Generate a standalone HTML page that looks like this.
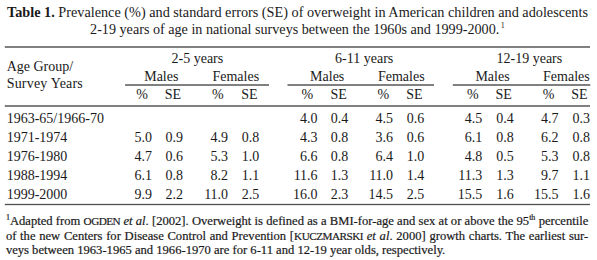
<!DOCTYPE html>
<html><head><meta charset="utf-8">
<style>
html,body{margin:0;padding:0;background:#fff;}
body{width:597px;height:260px;position:relative;overflow:hidden;font-family:"Liberation Serif",serif;color:#1a1a1a;}
.t{position:absolute;white-space:nowrap;line-height:1;}
.fn{-webkit-text-stroke:0.2px #1a1a1a;}
.j{text-align:justify;text-align-last:justify;white-space:normal;}
svg{position:absolute;left:0;top:0;}
.sc{font-size:11.2px;letter-spacing:-0.5px;}
.sup{font-size:0.64em;vertical-align:0.62em;line-height:0;}
.sup1{font-size:0.56em;vertical-align:0.72em;line-height:0;margin-left:1.5px;}
</style></head><body>
<svg width="597" height="260" viewBox="0 0 597 260"><rect x="4.8" y="46" width="585.2" height="2" fill="#808080"/><rect x="125.1" y="84" width="143.9" height="2" fill="#808080"/><rect x="287.5" y="84" width="146.5" height="2" fill="#808080"/><rect x="452.8" y="84" width="137.49999999999994" height="2" fill="#808080"/><rect x="4.8" y="105" width="585.2" height="2" fill="#808080"/><rect x="4.8" y="203" width="585.2" height="1" fill="#e4e4e4"/><rect x="4.8" y="204" width="585.2" height="1" fill="#505050"/><rect x="4.8" y="205" width="585.2" height="1" fill="#e4e4e4"/></svg>
<div class="t " style="top:5px;font-size:14.24px;left:-202.50px;width:1000px;text-align:center;"><b>Table 1.</b> Prevalence (%) and standard errors (SE) of overweight in American children and adolescents</div>
<div class="t " style="top:22px;font-size:14.15px;left:90.10px;">2-19 years of age in national surveys between the 1960s and 1999-2000.<span class="sup1">1</span></div>
<div class="t " style="top:60px;font-size:14.0px;left:6.70px;">Age Group/</div>
<div class="t " style="top:77px;font-size:14.0px;left:6.70px;letter-spacing:0.2px;">Survey Years</div>
<div class="t " style="top:52px;font-size:14.0px;left:-302.65px;width:1000px;text-align:center;">2-5 years</div>
<div class="t " style="top:70px;font-size:14.0px;left:-338.70px;width:1000px;text-align:center;">Males</div>
<div class="t " style="top:70px;font-size:14.0px;left:-264.20px;width:1000px;text-align:center;">Females</div>
<div class="t " style="top:88px;font-size:14.0px;left:-357.85px;width:1000px;text-align:center;">%</div>
<div class="t " style="top:88px;font-size:14.0px;left:-327.00px;width:1000px;text-align:center;">SE</div>
<div class="t " style="top:88px;font-size:14.0px;left:-282.05px;width:1000px;text-align:center;">%</div>
<div class="t " style="top:88px;font-size:14.0px;left:-250.65px;width:1000px;text-align:center;">SE</div>
<div class="t " style="top:52px;font-size:14.0px;left:-135.80px;width:1000px;text-align:center;">6-11 years</div>
<div class="t " style="top:70px;font-size:14.0px;left:-172.80px;width:1000px;text-align:center;">Males</div>
<div class="t " style="top:70px;font-size:14.0px;left:-98.70px;width:1000px;text-align:center;">Females</div>
<div class="t " style="top:88px;font-size:14.0px;left:-192.55px;width:1000px;text-align:center;">%</div>
<div class="t " style="top:88px;font-size:14.0px;left:-161.25px;width:1000px;text-align:center;">SE</div>
<div class="t " style="top:88px;font-size:14.0px;left:-116.65px;width:1000px;text-align:center;">%</div>
<div class="t " style="top:88px;font-size:14.0px;left:-85.70px;width:1000px;text-align:center;">SE</div>
<div class="t " style="top:52px;font-size:14.0px;left:29.40px;width:1000px;text-align:center;">12-19 years</div>
<div class="t " style="top:70px;font-size:14.0px;left:-7.50px;width:1000px;text-align:center;">Males</div>
<div class="t " style="top:70px;font-size:14.0px;left:66.40px;width:1000px;text-align:center;">Females</div>
<div class="t " style="top:88px;font-size:14.0px;left:-27.25px;width:1000px;text-align:center;">%</div>
<div class="t " style="top:88px;font-size:14.0px;left:3.70px;width:1000px;text-align:center;">SE</div>
<div class="t " style="top:88px;font-size:14.0px;left:48.65px;width:1000px;text-align:center;">%</div>
<div class="t " style="top:88px;font-size:14.0px;left:79.30px;width:1000px;text-align:center;">SE</div>
<div class="t " style="top:112px;font-size:14.0px;left:6.70px;">1963-65/1966-70</div>
<div class="t " style="top:112px;font-size:14.0px;right:279.40px;">4.0</div>
<div class="t " style="top:112px;font-size:14.0px;right:248.70px;">0.4</div>
<div class="t " style="top:112px;font-size:14.0px;right:203.90px;">4.5</div>
<div class="t " style="top:112px;font-size:14.0px;right:172.70px;">0.6</div>
<div class="t " style="top:112px;font-size:14.0px;right:114.70px;">4.5</div>
<div class="t " style="top:112px;font-size:14.0px;right:83.20px;">0.4</div>
<div class="t " style="top:112px;font-size:14.0px;right:38.40px;">4.7</div>
<div class="t " style="top:112px;font-size:14.0px;right:6.90px;">0.3</div>
<div class="t " style="top:131px;font-size:14.0px;left:6.70px;">1971-1974</div>
<div class="t " style="top:131px;font-size:14.0px;right:445.00px;">5.0</div>
<div class="t " style="top:131px;font-size:14.0px;right:413.90px;">0.9</div>
<div class="t " style="top:131px;font-size:14.0px;right:368.90px;">4.9</div>
<div class="t " style="top:131px;font-size:14.0px;right:337.70px;">0.8</div>
<div class="t " style="top:131px;font-size:14.0px;right:279.40px;">4.3</div>
<div class="t " style="top:131px;font-size:14.0px;right:248.70px;">0.8</div>
<div class="t " style="top:131px;font-size:14.0px;right:203.90px;">3.6</div>
<div class="t " style="top:131px;font-size:14.0px;right:172.70px;">0.6</div>
<div class="t " style="top:131px;font-size:14.0px;right:114.70px;">6.1</div>
<div class="t " style="top:131px;font-size:14.0px;right:83.20px;">0.8</div>
<div class="t " style="top:131px;font-size:14.0px;right:38.40px;">6.2</div>
<div class="t " style="top:131px;font-size:14.0px;right:6.90px;">0.8</div>
<div class="t " style="top:150px;font-size:14.0px;left:6.70px;">1976-1980</div>
<div class="t " style="top:150px;font-size:14.0px;right:445.00px;">4.7</div>
<div class="t " style="top:150px;font-size:14.0px;right:413.90px;">0.6</div>
<div class="t " style="top:150px;font-size:14.0px;right:368.90px;">5.3</div>
<div class="t " style="top:150px;font-size:14.0px;right:337.70px;">1.0</div>
<div class="t " style="top:150px;font-size:14.0px;right:279.40px;">6.6</div>
<div class="t " style="top:150px;font-size:14.0px;right:248.70px;">0.8</div>
<div class="t " style="top:150px;font-size:14.0px;right:203.90px;">6.4</div>
<div class="t " style="top:150px;font-size:14.0px;right:172.70px;">1.0</div>
<div class="t " style="top:150px;font-size:14.0px;right:114.70px;">4.8</div>
<div class="t " style="top:150px;font-size:14.0px;right:83.20px;">0.5</div>
<div class="t " style="top:150px;font-size:14.0px;right:38.40px;">5.3</div>
<div class="t " style="top:150px;font-size:14.0px;right:6.90px;">0.8</div>
<div class="t " style="top:169px;font-size:14.0px;left:6.70px;">1988-1994</div>
<div class="t " style="top:169px;font-size:14.0px;right:445.00px;">6.1</div>
<div class="t " style="top:169px;font-size:14.0px;right:413.90px;">0.8</div>
<div class="t " style="top:169px;font-size:14.0px;right:368.90px;">8.2</div>
<div class="t " style="top:169px;font-size:14.0px;right:337.70px;">1.1</div>
<div class="t " style="top:169px;font-size:14.0px;right:279.40px;">11.6</div>
<div class="t " style="top:169px;font-size:14.0px;right:248.70px;">1.3</div>
<div class="t " style="top:169px;font-size:14.0px;right:203.90px;">11.0</div>
<div class="t " style="top:169px;font-size:14.0px;right:172.70px;">1.4</div>
<div class="t " style="top:169px;font-size:14.0px;right:114.70px;">11.3</div>
<div class="t " style="top:169px;font-size:14.0px;right:83.20px;">1.3</div>
<div class="t " style="top:169px;font-size:14.0px;right:38.40px;">9.7</div>
<div class="t " style="top:169px;font-size:14.0px;right:6.90px;">1.1</div>
<div class="t " style="top:188px;font-size:14.0px;left:6.70px;">1999-2000</div>
<div class="t " style="top:188px;font-size:14.0px;right:445.00px;">9.9</div>
<div class="t " style="top:188px;font-size:14.0px;right:413.90px;">2.2</div>
<div class="t " style="top:188px;font-size:14.0px;right:368.90px;">11.0</div>
<div class="t " style="top:188px;font-size:14.0px;right:337.70px;">2.5</div>
<div class="t " style="top:188px;font-size:14.0px;right:279.40px;">16.0</div>
<div class="t " style="top:188px;font-size:14.0px;right:248.70px;">2.3</div>
<div class="t " style="top:188px;font-size:14.0px;right:203.90px;">14.5</div>
<div class="t " style="top:188px;font-size:14.0px;right:172.70px;">2.5</div>
<div class="t " style="top:188px;font-size:14.0px;right:114.70px;">15.5</div>
<div class="t " style="top:188px;font-size:14.0px;right:83.20px;">1.6</div>
<div class="t " style="top:188px;font-size:14.0px;right:38.40px;">15.5</div>
<div class="t " style="top:188px;font-size:14.0px;right:6.90px;">1.6</div>
<div class="t j fn" style="top:215px;font-size:12.6px;left:5.90px;width:582.4px;"><span class="sup">1</span>Adapted from <span class="sc">OGDEN</span> <i>et al</i>. [2002]. Overweight is defined as a BMI-for-age and sex at or above the 95<span class="sup">th</span> percentile</div>
<div class="t j fn" style="top:230px;font-size:12.6px;left:5.90px;width:582.4px;">of the new Centers for Disease Control and Prevention [<span class="sc">KUCZMARSKI</span> <i>et al</i>. 2000] growth charts. The earliest sur-</div>
<div class="t fn" style="top:244px;font-size:12.6px;left:5.90px;">veys between 1963-1965 and 1966-1970 are for 6-11 and 12-19 year olds, respectively.</div>
</body></html>
